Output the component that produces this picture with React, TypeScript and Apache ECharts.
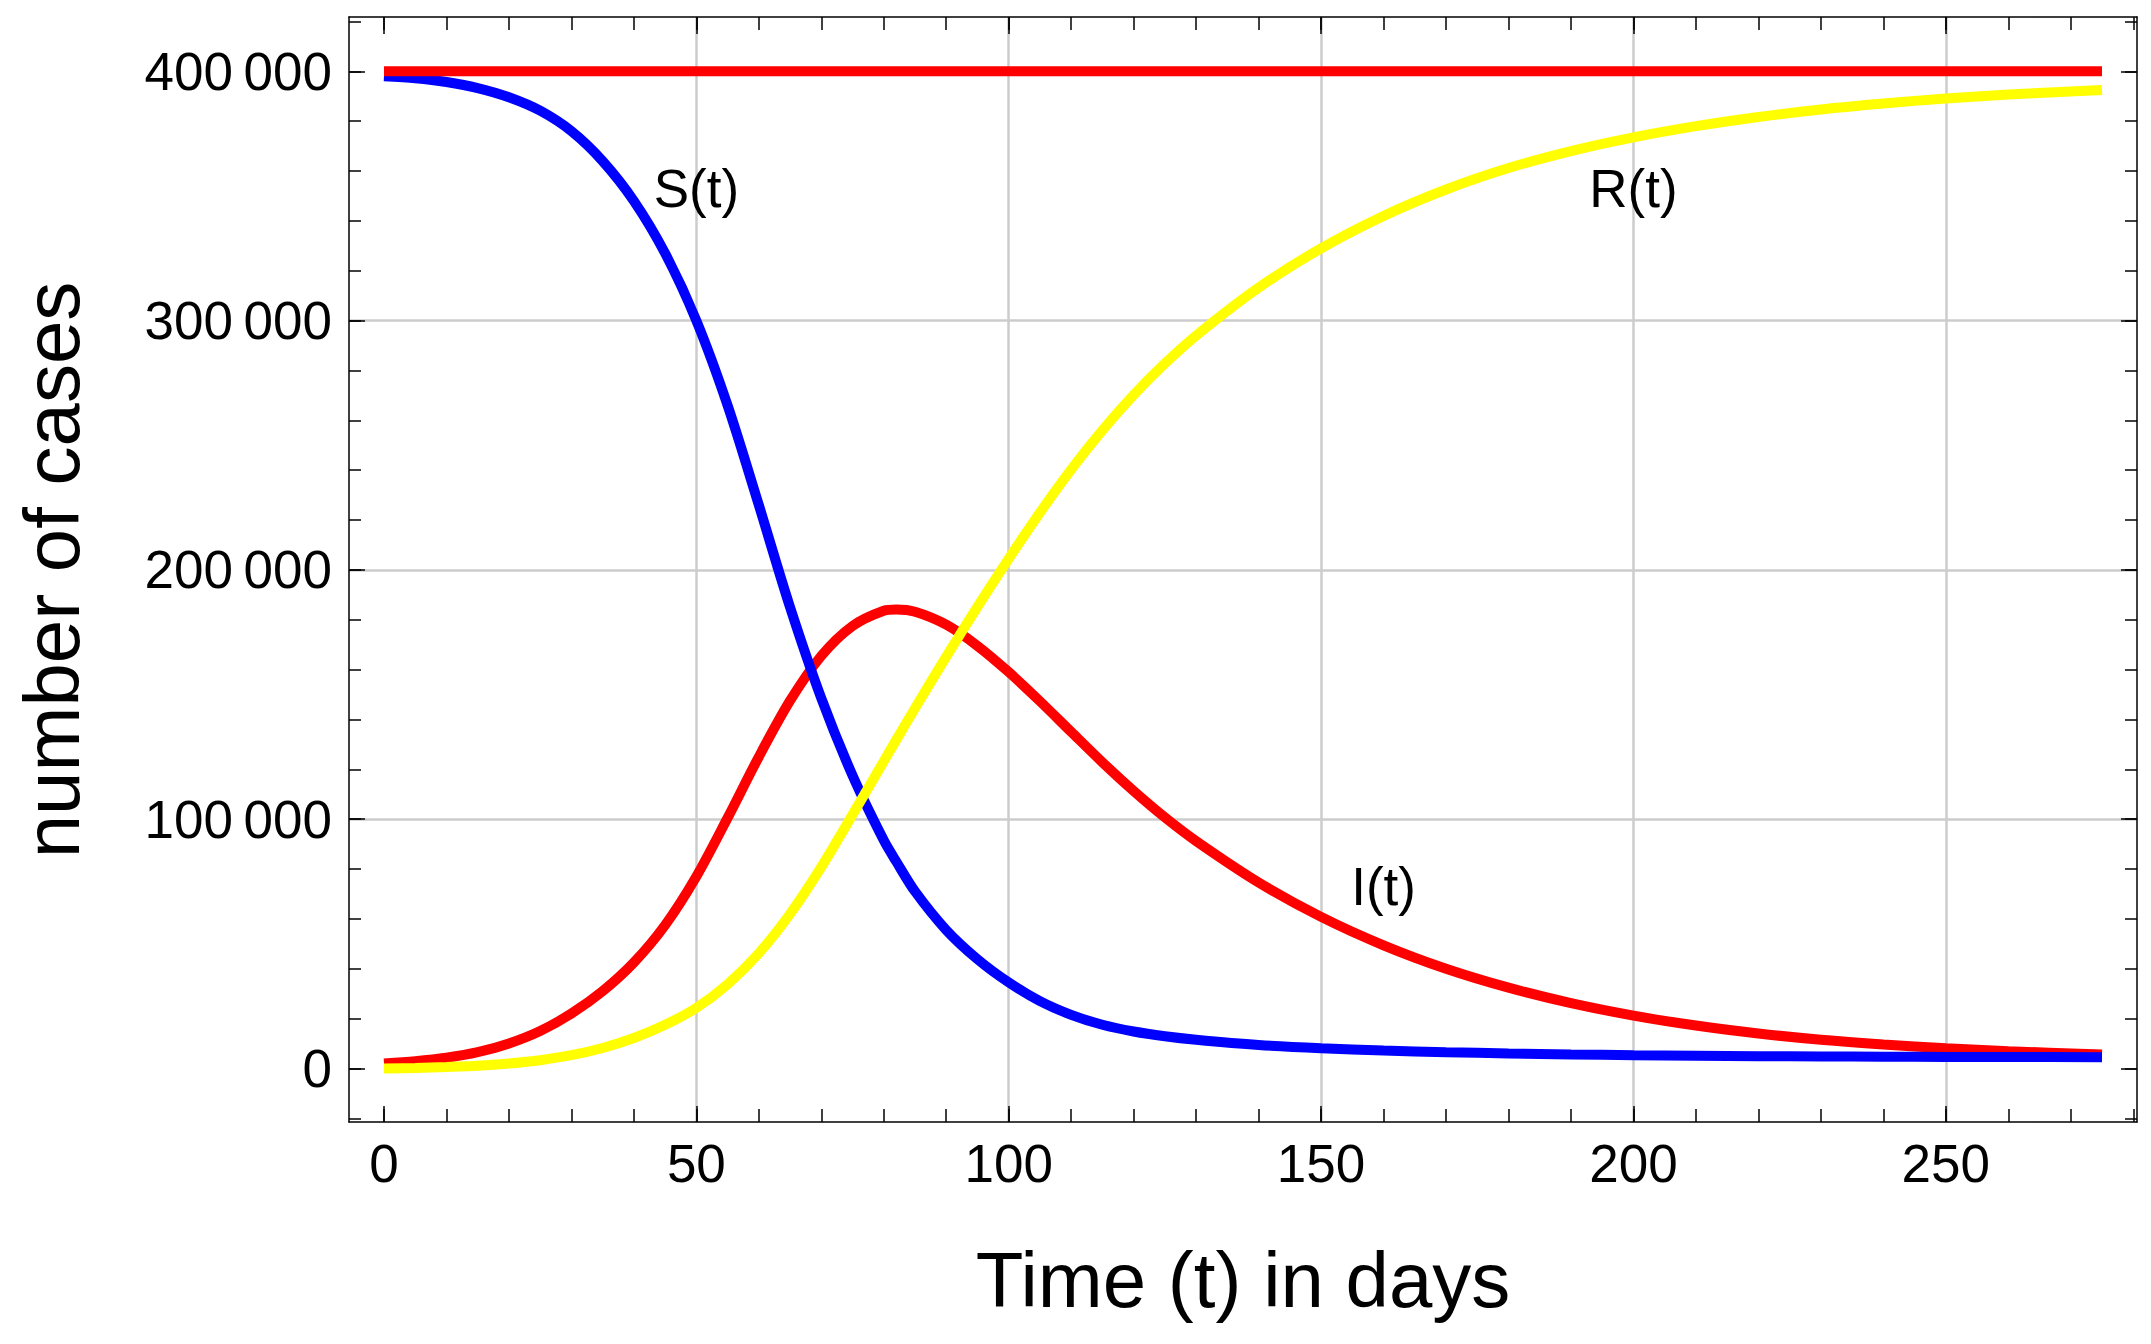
import React, { useEffect, useRef } from 'react';
import * as echarts from 'echarts';

// ---- data ----
const days = [0, 5, 10, 15, 20, 25, 30, 35, 40, 45, 50, 55, 60, 65, 70, 75, 80, 82, 85, 90, 95, 100, 105, 110, 115, 120, 125, 130, 140, 150, 160, 170, 180, 190, 200, 210, 220, 230, 240, 250, 260, 275];
const susceptible = [398000, 397200, 395700, 393300, 389600, 384200, 376000, 364000, 348000, 327000, 300000, 266000, 226000, 185000, 148500, 117500, 91500, 83000, 71000, 55500, 43800, 34500, 27000, 21500, 17500, 14800, 12900, 11500, 9400, 8100, 7200, 6500, 6000, 5600, 5300, 5100, 4900, 4800, 4700, 4600, 4550, 4500];
const infected = [2000, 2900, 4300, 6500, 10000, 15000, 22000, 31000, 42500, 57500, 77000, 100500, 125000, 147500, 165500, 177500, 183600, 184100, 183200, 178000, 169500, 159000, 147300, 135000, 122800, 111300, 100700, 91200, 74600, 60800, 49400, 40000, 32400, 26200, 21200, 17200, 14000, 11500, 9600, 8100, 6900, 5600];
const recovered = [0, 200, 600, 1100, 2000, 3300, 5300, 8200, 12200, 17500, 24300, 33800, 46200, 62000, 80800, 101800, 123200, 131800, 144500, 165200, 185200, 204500, 223000, 240300, 256000, 270200, 282800, 294000, 313200, 329000, 342000, 352600, 361200, 368000, 373500, 378000, 381700, 384700, 387100, 389100, 390700, 392500];
const populationDays = [0, 275];
const populationValues = [400000, 400000];

const curveLabels = ['S(t)', 'I(t)', 'R(t)'];
const curveLabelDays = [50, 160, 200];
const curveLabelValues = [353000, 73000, 353000];

const xMajorTicks = [0, 50, 100, 150, 200, 250];
const xMinorTicks = [0, 10, 20, 30, 40, 50, 60, 70, 80, 90, 100, 110, 120, 130, 140, 150, 160, 170, 180, 190, 200, 210, 220, 230, 240, 250, 260, 270, 280];
const yMajorTicks = [0, 100000, 200000, 300000, 400000];
const yMinorTicks = [-20000, 0, 20000, 40000, 60000, 80000, 100000, 120000, 140000, 160000, 180000, 200000, 220000, 240000, 260000, 280000, 300000, 320000, 340000, 360000, 380000, 400000, 420000];
const xGridLines = [50, 100, 150, 200, 250];
const yGridLines = [100000, 200000, 300000];

const X_MIN = -5.6;
const X_MAX = 280.6;
const Y_MIN = -21500;
const Y_MAX = 421800;

const FONT = '"Liberation Sans", Arial, Helvetica, sans-serif';

const zip = (xs: number[], ys: number[]) => xs.map((x, i) => [x, ys[i]]);

const fmtY = (v: number) => {
  if (v === 0) return '0';
  const s = String(Math.round(v));
  return s.replace(/\B(?=(\d{3})+(?!\d))/g, '\u2009');
};

function axis(kind: 'x' | 'y', gridIndex: number, position: string, opts: any) {
  const isX = kind === 'x';
  return {
    type: 'value',
    gridIndex,
    position,
    min: isX ? X_MIN : Y_MIN,
    max: isX ? X_MAX : Y_MAX,
    axisLine: {
      show: !!opts.line,
      onZero: false,
      lineStyle: { color: '#000', width: 1.5 },
    },
    axisTick: {
      show: !!opts.ticks,
      inside: true,
      length: opts.tickLen || 15,
      customValues: opts.ticks || opts.grid,
      lineStyle: { color: '#000', width: 1.5 },
    },
    axisLabel: opts.labels
      ? {
          show: true,
          customValues: opts.ticks,
          fontFamily: FONT,
          fontSize: 53,
          color: '#000',
          margin: isX ? 41 : 17,
          verticalAlign: 'middle',
          formatter: isX ? (v: number) => String(v) : fmtY,
        }
      : { show: false },
    splitLine: opts.grid
      ? { show: true, lineStyle: { color: '#cccccc', width: 2.5 } }
      : { show: false },
  };
}

const curve = (name: string, ys: number[], color: string, z: number) => ({
  name,
  type: 'line',
  xAxisIndex: 0,
  yAxisIndex: 0,
  data: zip(days, ys),
  showSymbol: false,
  symbol: 'none',
  smooth: 0.3,
  z,
  lineStyle: { color, width: 10 },
  itemStyle: { color },
});

export default function App() {
  const ref = useRef<HTMLDivElement>(null);

  useEffect(() => {
    if (!ref.current) return;
    const chart = echarts.init(ref.current, undefined, { renderer: 'svg' });
    const g = { left: 349, top: 17, width: 1788, height: 1105 };

    const option: any = {
      animation: false,
      backgroundColor: '#ffffff',
      grid: [g, g, g].map((x) => ({ ...x, containLabel: false })),
      xAxis: [
        axis('x', 0, 'bottom', { line: true, ticks: xMajorTicks, tickLen: 16, labels: true }),
        axis('x', 0, 'top', { line: true, ticks: xMajorTicks, tickLen: 17 }),
        axis('x', 1, 'bottom', { ticks: xMinorTicks, tickLen: 13 }),
        axis('x', 1, 'top', { ticks: xMinorTicks, tickLen: 13 }),
        axis('x', 2, 'bottom', { grid: xGridLines }),
      ],
      yAxis: [
        axis('y', 0, 'left', { line: true, ticks: yMajorTicks, tickLen: 16, labels: true }),
        axis('y', 0, 'right', { line: true, ticks: yMajorTicks, tickLen: 16 }),
        axis('y', 1, 'left', { ticks: yMinorTicks, tickLen: 12 }),
        axis('y', 1, 'right', { ticks: yMinorTicks, tickLen: 12 }),
        axis('y', 2, 'left', { grid: yGridLines }),
      ],
      series: [
        curve('I(t)', infected, '#ff0000', 2),
        curve('S(t)', susceptible, '#0000ff', 3),
        curve('R(t)', recovered, '#ffff00', 4),
        {
          name: 'N',
          type: 'line',
          xAxisIndex: 0,
          yAxisIndex: 0,
          data: zip(populationDays, populationValues),
          showSymbol: false,
          symbol: 'none',
          z: 5,
          lineStyle: { color: '#ff0000', width: 10 },
          itemStyle: { color: '#ff0000' },
        },
        {
          name: 'labels',
          type: 'scatter',
          xAxisIndex: 0,
          yAxisIndex: 0,
          symbolSize: 0,
          z: 6,
          itemStyle: { color: '#000000' },
          data: curveLabels.map((txt, i) => ({
            value: [curveLabelDays[i], curveLabelValues[i]],
            name: txt,
          })),
          label: {
            show: true,
            position: 'inside',
            formatter: (p: any) => p.name,
            fontFamily: FONT,
            fontSize: 53,
            color: '#000000',
            opacity: 1,
            textBorderWidth: 0,
          },
        },
      ],
      graphic: [
        {
          type: 'text',
          x: 1243,
          y: 1280,
          style: {
            text: 'Time (t) in days',
            fontFamily: FONT,
            fontSize: 78,
            fill: '#000',
            align: 'center',
            verticalAlign: 'middle',
          },
        },
        {
          type: 'text',
          x: 52,
          y: 570,
          rotation: Math.PI / 2,
          style: {
            text: 'number of cases',
            fontFamily: FONT,
            fontSize: 78,
            fill: '#000',
            align: 'center',
            verticalAlign: 'middle',
          },
        },
      ],
    };

    chart.setOption(option);
    return () => chart.dispose();
  }, []);

  return (
    <div
      ref={ref}
      style={{ position: 'fixed', left: 0, top: 0, width: 2151, height: 1344, background: '#fff' }}
    />
  );
}
